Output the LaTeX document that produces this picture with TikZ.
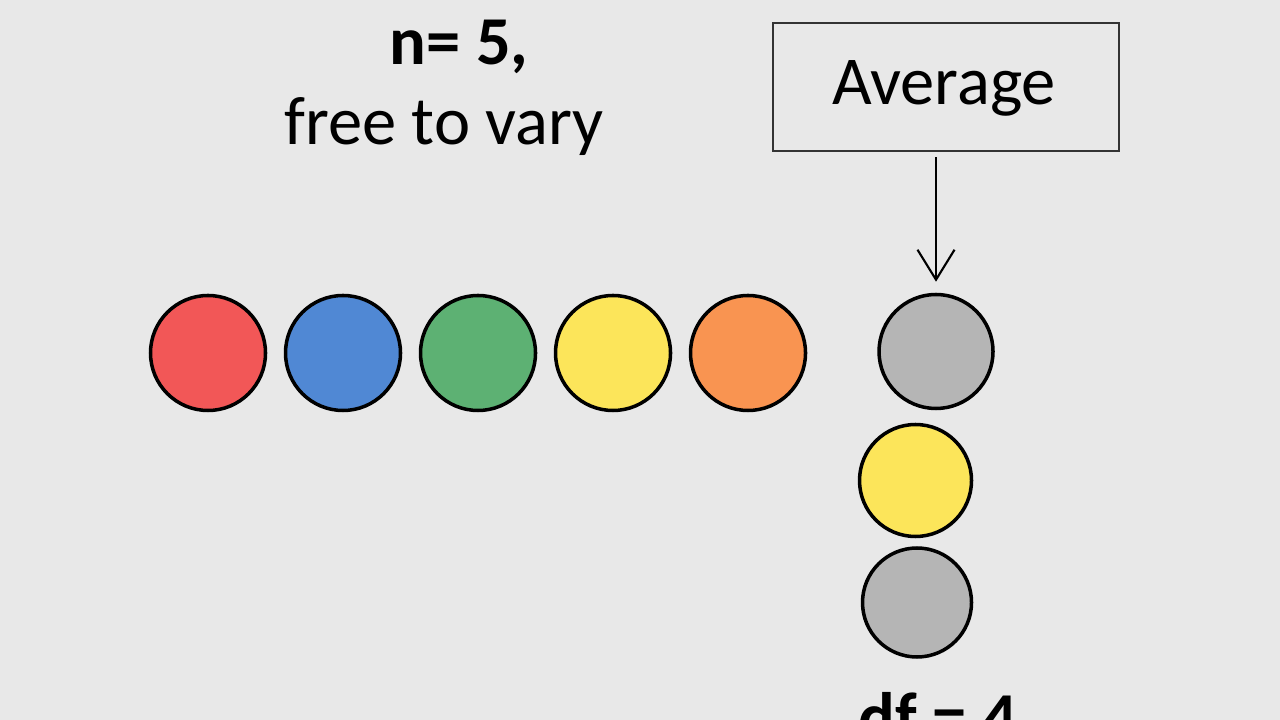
\documentclass[tikz,border=0pt]{standalone}
\usepackage{fontspec}
\setmainfont{Carlito}
\usetikzlibrary{arrows.meta,positioning}
\definecolor{bgcol}{HTML}{E8E8E8}
\definecolor{cred}{HTML}{F25757}
\definecolor{cblue}{HTML}{5088D4}
\definecolor{cgreen}{HTML}{5DB173}
\definecolor{cyellow}{HTML}{FCE55A}
\definecolor{corange}{HTML}{F99451}
\definecolor{cgray}{HTML}{B5B5B5}
\begin{document}
\begin{tikzpicture}
  \tikzset{ball/.style = {circle, draw=black, line width=1pt, minimum size=1.15cm, inner sep=0pt},
           lbl/.style = {inner sep=0pt, font=\fontsize{19.5}{23}\selectfont}}
  \fill[bgcol] (0,0) rectangle (12.8,-7.2);
  \useasboundingbox (0,0) rectangle (12.8,-7.2);
  \node[lbl, anchor=base, font=\bfseries\fontsize{19.5}{23}\selectfont] (nfive) at (4.59,-0.65) {n= 5,};
  \node[lbl, anchor=base] (free) at (4.44,-1.45) {free to vary};
  \foreach \c [count=\i] in {cred,cblue,cgreen,cyellow,corange}
    \node[ball, fill=\c] (c\i) at (0.73+1.35*\i,-3.53) {};
  \node[ball, fill=cgray, minimum size=1.14cm] (avg) at (9.36,-3.515) {};
  \node[ball, fill=cyellow, minimum size=1.12cm] (fixed) at (9.155,-4.805) {};
  \node[ball, fill=cgray, minimum size=1.09cm] (last) at (9.17,-6.025) {};
  \node[draw=black!80, line width=0.6pt, minimum width=3.46cm, minimum height=1.28cm] (box) at (9.46,-0.87) {};
  \node[lbl, anchor=base] (avgtext) at (9.44,-1.05) {Average};
  \draw[-{Straight Barb[length=3mm,width=3.7mm]}, line width=0.6pt, shorten <=0.05cm, shorten >=0.11cm]
    (box.south -| avg.north) -- (avg.north);
  \node[lbl, anchor=base west, font=\bfseries\fontsize{19.5}{23}\selectfont] (df) at (8.58,-7.40) {df = 4};
\end{tikzpicture}
\end{document}
